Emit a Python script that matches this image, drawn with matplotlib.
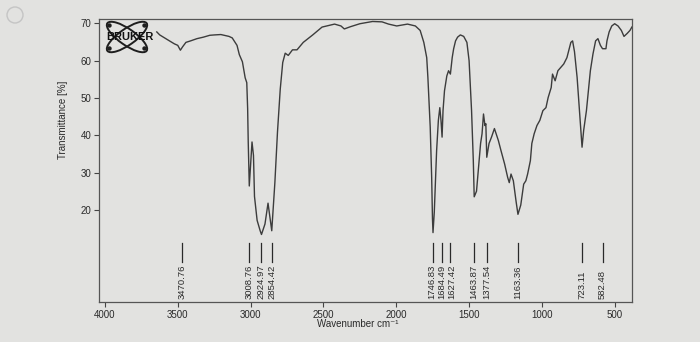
import matplotlib
matplotlib.use("Agg")
import matplotlib.pyplot as plt
from matplotlib.patches import Ellipse

plt.rcParams["font.family"] = ["Liberation Sans", "DejaVu Sans"]

# IR spectrum: wavenumber (cm-1) and transmittance (%)
wavenumber = [
    3644, 3624, 3591, 3557, 3523, 3500, 3482, 3467, 3444, 3412, 3368, 3324,
    3280, 3247, 3204, 3148, 3126, 3093, 3077, 3056, 3037, 3026, 3020, 3016,
    3012, 3008.76, 2990, 2980, 2973, 2955, 2934, 2924.97, 2901, 2880, 2867,
    2854.42, 2833, 2815, 2796, 2779, 2762, 2741, 2712, 2681, 2638, 2573,
    2509, 2423, 2379, 2356, 2314, 2249, 2162, 2097, 2052, 1996, 1922, 1868,
    1835, 1810, 1790, 1782, 1766, 1756, 1750.5, 1746.83, 1738, 1722, 1710,
    1700, 1692, 1684.49, 1678, 1668, 1652, 1640, 1627.42, 1615, 1605, 1592,
    1578, 1559, 1536, 1514, 1499, 1482, 1470, 1463.87, 1448, 1433, 1420,
    1410, 1400, 1390, 1384, 1377.54, 1362, 1345, 1325, 1298, 1280, 1255,
    1234, 1223, 1211, 1195, 1176, 1163.36, 1144, 1124, 1109, 1097, 1078,
    1068, 1052, 1033, 1013, 992, 971, 956, 935, 926, 908, 889, 869, 849,
    827, 808, 800, 788, 775, 757, 738, 723.11, 712, 693, 680, 666, 648,
    630, 614, 597, 582.48, 559, 552, 537, 519, 499, 476, 453, 435, 413,
    394, 381,
]
transmittance = [
    67.7, 66.9, 66.1, 65.3, 64.5, 64.1, 62.8, 63.7, 64.9, 65.3, 65.9, 66.3,
    66.8, 66.9, 67.0, 66.5, 66.1, 64.1, 61.6, 59.7, 55.4, 54.1, 47.1, 38.2,
    31.9, 26.4, 38.2, 34.6, 23.6, 17.2, 14.4, 13.4, 16.2, 21.8, 18.1,
    14.4, 27.3, 40.9, 52.4, 59.5, 62.0, 61.4, 62.9, 62.9, 64.9, 66.9,
    69.0, 69.8, 69.3, 68.5, 69.1, 69.9, 70.5, 70.4, 69.8, 69.3, 69.8, 69.3,
    68.1, 64.9, 60.8, 55.5, 42.2, 28.7, 17.6, 13.9, 19.4, 35.9, 44.0,
    47.4, 44.0, 39.5, 46.6, 51.9, 55.9, 57.3, 56.4, 60.8, 63.2, 65.3,
    66.3, 66.9, 66.5, 64.9, 60.0, 46.6, 33.2, 23.5, 25.0, 31.9, 37.8,
    40.4, 45.7, 42.6, 43.1, 34.1, 37.8, 39.5, 41.8, 38.6, 35.9, 32.3,
    28.7, 27.3, 29.6, 27.8, 22.2, 18.8, 21.3, 26.9, 27.8, 29.6, 33.2,
    37.8, 40.4, 42.6, 44.0, 46.6, 47.4, 50.1, 52.8, 56.4, 54.6, 57.3, 58.2, 59.1,
    60.8, 63.7, 64.9, 65.3, 62.4, 55.5, 44.8, 36.8, 41.3, 46.6, 51.9, 57.3, 61.8,
    65.3, 65.9, 64.1, 63.2, 63.2, 65.3, 67.7, 69.3, 69.9, 69.3, 68.1, 66.5, 67.3,
    68.1, 69.0,
]

# Picked peak positions
peak_positions = [3470.76, 3008.76, 2924.97, 2854.42, 1746.83, 1684.49,
                  1627.42, 1463.87, 1377.54, 1163.36, 723.11, 582.48]

x_ticks = [4000, 3500, 3000, 2500, 2000, 1500, 1000, 500]
y_ticks = [20, 30, 40, 50, 60, 70]

BG = "#e2e2e0"
INK = "#3c3c3c"

fig = plt.figure(figsize=(7.0, 3.42), dpi=100, facecolor=BG)
W, H = 700, 342
ax_l, ax_r, ax_t, ax_b = 99, 632, 18.5, 302
ax = fig.add_axes([ax_l / W, 1 - ax_b / H, (ax_r - ax_l) / W, (ax_b - ax_t) / H])
ax.set_facecolor(BG)

ax.plot(wavenumber, transmittance, color=INK, lw=1.0, zorder=3)

ax.set_xlim(4041, 380)
ax.set_ylim(-4.7, 71.3)
ax.set_xticks(x_ticks)
ax.set_yticks(y_ticks)
ax.set_xticklabels([str(v) for v in x_ticks])
ax.set_yticklabels([str(v) for v in y_ticks])
ax.tick_params(labelsize=7, length=3.5, width=0.8, color="#444444",
               labelcolor="#2a2a2a", pad=2)
for s in ax.spines.values():
    s.set_color("#555555")
    s.set_linewidth(0.9)

ax.set_xlabel("Wavenumber cm⁻¹", fontsize=7, color="#2a2a2a")
ax.xaxis.set_label_coords((358 - ax_l) / (ax_r - ax_l), -(319 - ax_b) / (ax_b - ax_t))
ax.set_ylabel("Transmittance [%]", fontsize=7, color="#2a2a2a")
ax.yaxis.set_label_coords(-(ax_l - 68) / (ax_r - ax_l), (ax_b - 120) / (ax_b - ax_t))

# Peak annotations: value text with a short marker line above it.
# Crowded labels in the carbonyl group are nudged a little apart.
text_nudge = {1746.83: 9, 1627.42: -9}
for p in peak_positions:
    ax.text(p + text_nudge.get(p, 0), -3.8, f"{p:.2f}", rotation=90,
            ha="center", va="bottom", fontsize=6.8, color="#2a2a2a", zorder=4)
    ax.plot([p, p], [6.0, 11.2], color="#2a2a2a", lw=0.9, zorder=4)

# Bruker logo
lg = fig.add_axes([100 / W, 1 - 56 / H, 60 / W, 38 / H])
lg.set_xlim(0, 60)
lg.set_ylim(0, 38)
lg.set_axis_off()
for ang in (35, -35):
    lg.add_patch(Ellipse((27, 19), 48, 16, angle=ang, fill=False,
                         ec="#1e1e1e", lw=1.4))
for (dx, dy) in [(9.5, 7.5), (44.5, 30.5), (9.5, 30.5), (44.5, 7.5)]:
    lg.add_patch(Ellipse((dx, dy), 3.0, 3.0, color="#1e1e1e"))
lg.text(30, 18.5, "BRUKER", fontsize=8, fontweight="bold", ha="center",
        va="center", color="#111111")

# small round marker at top-left of the page
fig.add_artist(Ellipse((15 / W, 1 - 15 / H), 16 / W, 16 / H, fill=False,
                       ec="#c4c4c4", lw=1.0, transform=fig.transFigure))

fig.savefig("out.png", dpi=100, facecolor=BG)
